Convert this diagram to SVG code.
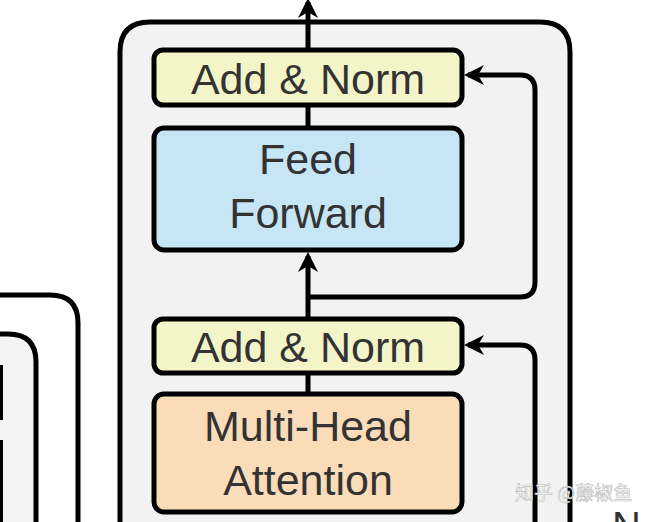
<svg xmlns="http://www.w3.org/2000/svg" width="654" height="522" viewBox="0 0 654 522">
<defs>
<style>
.box{stroke:#000;stroke-width:5}
.t{font-family:"Liberation Sans",Arial,sans-serif;font-size:43px;fill:#333;text-anchor:middle}
.c{fill:none;stroke:#000;stroke-width:5;stroke-linejoin:round}
</style>
<marker id="ah" viewBox="0 0 10 10" refX="8" refY="5" markerWidth="4" markerHeight="4" orient="auto" markerUnits="strokeWidth">
<path d="M0,0 L10,5 L0,10 L3,5 Z" fill="#000"/>
</marker>
</defs>
<rect width="654" height="522" fill="#fff"/>
<g id="left">
<path d="M-20,295 H50 Q78,295 78,323 V530 H-20 Z" fill="#fff" stroke="#000" stroke-width="5"/>
<path d="M-20,334 H8 Q36,334 36,362 V530 H-20 Z" fill="#f4f4f4" stroke="#000" stroke-width="5"/>
<rect x="-5" y="365" width="8" height="55" fill="#000"/>
<rect x="-5" y="440" width="8" height="90" fill="#000"/>
</g>
<g id="container">
<path d="M120,540 V52 Q120,22 150,22 H540 Q570,22 570,52 V540 Z" fill="#f2f2f2" stroke="#000" stroke-width="5"/>
</g>
<g id="connectors">
<path class="c" d="M308,50 V2" marker-end="url(#ah)"/>
<path class="c" d="M308,106 V127"/>
<path class="c" d="M308,318 V256" marker-end="url(#ah)"/>
<path class="c" d="M308,373 V393"/>
<path class="c" d="M308,297 H520 Q535,297 535,282 V90 Q535,75 520,75 H468" marker-end="url(#ah)"/>
<path class="c" d="M535,530 V360 Q535,345 520,345 H468" marker-end="url(#ah)"/>
</g>
<g id="addnorm2">
<rect class="box" x="154" y="50" width="308" height="55" rx="9" fill="#f3f5c8"/>
<text class="t" x="308" y="94">Add &amp; Norm</text>
</g>
<g id="ff">
<rect class="box" x="154" y="128" width="308" height="122" rx="10" fill="#c6e5f5"/>
<text class="t" x="308" y="174">Feed</text>
<text class="t" x="308" y="228">Forward</text>
</g>
<g id="addnorm1">
<rect class="box" x="154" y="319" width="308" height="54" rx="9" fill="#f3f5c8"/>
<text class="t" x="308" y="362">Add &amp; Norm</text>
</g>
<g id="mha">
<rect class="box" x="154" y="394" width="308" height="118" rx="10" fill="#fbdcb8"/>
<text class="t" x="308" y="441">Multi-Head</text>
<text class="t" x="308" y="495">Attention</text>
</g>
<text x="612" y="540" font-family="Liberation Sans,Arial,sans-serif" font-size="40" fill="#333">N</text>
<text x="515" y="500" font-family="Noto Sans CJK SC,sans-serif" font-size="19" fill="#fff" stroke="#bbb" stroke-width="0.6">知乎 @藤椒鱼</text>
</svg>
